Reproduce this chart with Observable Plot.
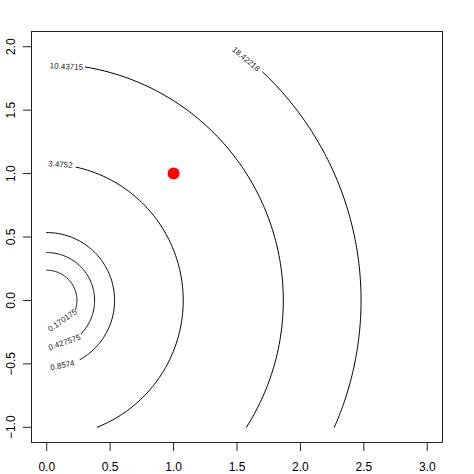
<!DOCTYPE html>
<html><head><meta charset="utf-8">
<script src="https://cdn.jsdelivr.net/npm/d3@7"></script>
<script src="https://cdn.jsdelivr.net/npm/@observablehq/plot@0.6"></script>
<style>body{margin:0;background:#fff;font-family:"Liberation Sans",Arial,sans-serif;}</style>
</head><body><div id="chart"></div>
<script>
// contour levels and radii (contours centered at origin)
const levels = [0.170175, 0.427575, 0.8574, 3.4752, 10.43715, 18.42218];
const radii = [0.238, 0.3775, 0.535, 1.076, 1.865, 2.478];
// drawn arc angle ranges (degrees), label gaps excluded
const arcStart = [90, 90, 90, 77.5, 80.6, 46.6];
const arcEnd = [-18, -44, -60.6, -68.3, -32.4, -23.8];
// label positions and rotation
const labelX = [0.124, 0.140, 0.124, 0.108, 0.155, 1.571];
const labelY = [-0.157, -0.331, -0.512, 1.071, 1.843, 1.902];
const labelRot = [-35, -19, -12, 4, 3, 40];
// point
const pointX = [1];
const pointY = [1];
// ticks
const xTicks = [0, 0.5, 1, 1.5, 2, 2.5, 3];
const yTicks = [-1, -0.5, 0, 0.5, 1, 1.5, 2];

const arcs = [];
levels.forEach((lv, i) => {
  const n = 120;
  for (let k = 0; k <= n; k++) {
    const a = (arcStart[i] + (arcEnd[i] - arcStart[i]) * k / n) * Math.PI / 180;
    arcs.push({level: lv, x: radii[i] * Math.cos(a), y: radii[i] * Math.sin(a)});
  }
});
const labels = levels.map((lv, i) => ({text: String(lv), x: labelX[i], y: labelY[i], r: labelRot[i]}));
const fmt = d3.format(".1f");

const chart = Plot.plot({
  width: 474, height: 474,
  marginLeft: 31, marginRight: 32, marginTop: 31, marginBottom: 32,
  style: {fontFamily: '"Liberation Sans", Arial, sans-serif', background: "#fff"},
  x: {domain: [-0.12, 3.12]},
  y: {domain: [-1.12, 2.12]},
  marks: [
    Plot.line(arcs, {x: "x", y: "y", z: "level", stroke: "#000", strokeWidth: 1, curve: "linear"}),
    Plot.text(labels, {x: "x", y: "y", text: "text", rotate: "r", fontSize: 8, fill: "#222", textAnchor: "middle", lineAnchor: "middle"}),
    Plot.dot({length: pointX.length}, {x: pointX, y: pointY, r: 6, fill: "#ff0000", stroke: "none"}),
    Plot.frame({stroke: "#222", strokeWidth: 1}),
    Plot.axisX({ticks: xTicks, tickSize: 9, tickFormat: () => "", label: null, stroke: "#222"}),
    Plot.text(xTicks, {x: d => d, frameAnchor: "bottom", dy: 25, text: d => fmt(d), fontSize: 12, fill: "#000", lineAnchor: "middle"}),
    Plot.axisY({ticks: yTicks, tickSize: 8, tickFormat: () => "", label: null, stroke: "#222"}),
    Plot.text(yTicks, {y: d => d, frameAnchor: "left", dx: -20, rotate: -90, text: d => fmt(d), fontSize: 12, fill: "#000", lineAnchor: "middle", textAnchor: "middle"})
  ]
});
document.getElementById("chart").appendChild(chart);
</script></body></html>
